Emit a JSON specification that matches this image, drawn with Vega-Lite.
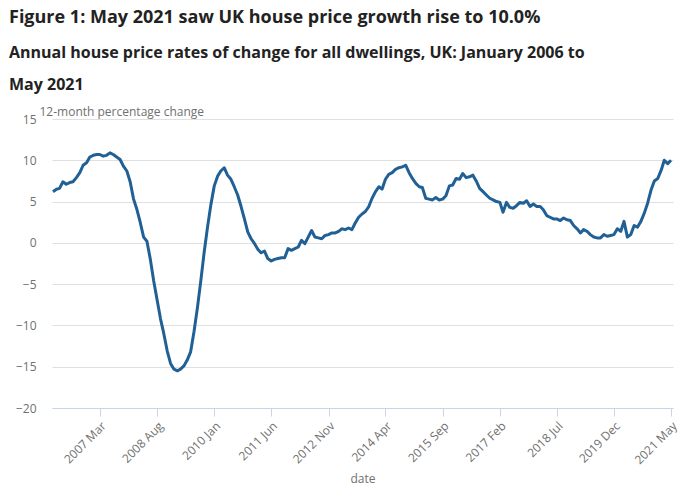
{
  "$schema": "https://vega.github.io/schema/vega-lite/v6.json",
  "width": 621,
  "height": 289,
  "autosize": {"type": "none"},
  "padding": {"left": 52, "top": 119, "right": 26, "bottom": 90},
  "config": {
    "font": "Open Sans",
    "view": {"stroke": null},
    "background": "white"
  },
  "title": {
    "text": "Figure 1: May 2021 saw UK house price growth rise to 10.0%",
    "subtitle": ["Annual house price rates of change for all dwellings, UK: January 2006 to", "May 2021"],
    "anchor": "start",
    "frame": "group",
    "dx": -43,
    "offset": 12,
    "fontSize": 18,
    "fontWeight": "bold",
    "color": "#222222",
    "subtitleFontSize": 16,
    "subtitleFontWeight": "bold",
    "subtitleColor": "#222222",
    "subtitleLineHeight": 32,
    "subtitlePadding": 18
  },
  "data": {
    "values": [
      {"date": "2006-01", "value": 6.2}, {"date": "2006-02", "value": 6.5}, {"date": "2006-03", "value": 6.6},
      {"date": "2006-04", "value": 7.4}, {"date": "2006-05", "value": 7.1}, {"date": "2006-06", "value": 7.3},
      {"date": "2006-07", "value": 7.4}, {"date": "2006-08", "value": 7.9}, {"date": "2006-09", "value": 8.5},
      {"date": "2006-10", "value": 9.4}, {"date": "2006-11", "value": 9.7}, {"date": "2006-12", "value": 10.4},
      {"date": "2007-01", "value": 10.6}, {"date": "2007-02", "value": 10.7}, {"date": "2007-03", "value": 10.7},
      {"date": "2007-04", "value": 10.5}, {"date": "2007-05", "value": 10.6}, {"date": "2007-06", "value": 10.9},
      {"date": "2007-07", "value": 10.7}, {"date": "2007-08", "value": 10.4}, {"date": "2007-09", "value": 10.1},
      {"date": "2007-10", "value": 9.3}, {"date": "2007-11", "value": 8.7}, {"date": "2007-12", "value": 7.4},
      {"date": "2008-01", "value": 5.3}, {"date": "2008-02", "value": 4.0}, {"date": "2008-03", "value": 2.5},
      {"date": "2008-04", "value": 0.7}, {"date": "2008-05", "value": 0.2}, {"date": "2008-06", "value": -2.0},
      {"date": "2008-07", "value": -4.6}, {"date": "2008-08", "value": -6.9}, {"date": "2008-09", "value": -9.2},
      {"date": "2008-10", "value": -11.0}, {"date": "2008-11", "value": -13.1}, {"date": "2008-12", "value": -14.6},
      {"date": "2009-01", "value": -15.3}, {"date": "2009-02", "value": -15.5}, {"date": "2009-03", "value": -15.3},
      {"date": "2009-04", "value": -14.9}, {"date": "2009-05", "value": -14.2}, {"date": "2009-06", "value": -13.2},
      {"date": "2009-07", "value": -10.8}, {"date": "2009-08", "value": -7.9}, {"date": "2009-09", "value": -4.6},
      {"date": "2009-10", "value": -1.2}, {"date": "2009-11", "value": 1.9}, {"date": "2009-12", "value": 4.6},
      {"date": "2010-01", "value": 6.9}, {"date": "2010-02", "value": 8.1}, {"date": "2010-03", "value": 8.7},
      {"date": "2010-04", "value": 9.1}, {"date": "2010-05", "value": 8.2}, {"date": "2010-06", "value": 7.7},
      {"date": "2010-07", "value": 6.8}, {"date": "2010-08", "value": 5.8}, {"date": "2010-09", "value": 4.4},
      {"date": "2010-10", "value": 2.9}, {"date": "2010-11", "value": 1.3}, {"date": "2010-12", "value": 0.5},
      {"date": "2011-01", "value": -0.1}, {"date": "2011-02", "value": -0.8}, {"date": "2011-03", "value": -1.2},
      {"date": "2011-04", "value": -1.0}, {"date": "2011-05", "value": -1.9}, {"date": "2011-06", "value": -2.2},
      {"date": "2011-07", "value": -2.0}, {"date": "2011-08", "value": -1.9}, {"date": "2011-09", "value": -1.8},
      {"date": "2011-10", "value": -1.8}, {"date": "2011-11", "value": -0.7}, {"date": "2011-12", "value": -0.9},
      {"date": "2012-01", "value": -0.7}, {"date": "2012-02", "value": -0.5}, {"date": "2012-03", "value": 0.3},
      {"date": "2012-04", "value": -0.1}, {"date": "2012-05", "value": 0.7}, {"date": "2012-06", "value": 1.5},
      {"date": "2012-07", "value": 0.7}, {"date": "2012-08", "value": 0.6}, {"date": "2012-09", "value": 0.5},
      {"date": "2012-10", "value": 0.9}, {"date": "2012-11", "value": 1.0}, {"date": "2012-12", "value": 1.2},
      {"date": "2013-01", "value": 1.2}, {"date": "2013-02", "value": 1.4}, {"date": "2013-03", "value": 1.7},
      {"date": "2013-04", "value": 1.6}, {"date": "2013-05", "value": 1.8}, {"date": "2013-06", "value": 1.6},
      {"date": "2013-07", "value": 2.4}, {"date": "2013-08", "value": 3.1}, {"date": "2013-09", "value": 3.5},
      {"date": "2013-10", "value": 3.8}, {"date": "2013-11", "value": 4.4}, {"date": "2013-12", "value": 5.4},
      {"date": "2014-01", "value": 6.2}, {"date": "2014-02", "value": 6.8}, {"date": "2014-03", "value": 6.5},
      {"date": "2014-04", "value": 7.7}, {"date": "2014-05", "value": 8.3}, {"date": "2014-06", "value": 8.5},
      {"date": "2014-07", "value": 8.9}, {"date": "2014-08", "value": 9.1}, {"date": "2014-09", "value": 9.2},
      {"date": "2014-10", "value": 9.4}, {"date": "2014-11", "value": 8.5}, {"date": "2014-12", "value": 7.8},
      {"date": "2015-01", "value": 7.2}, {"date": "2015-02", "value": 6.8}, {"date": "2015-03", "value": 6.7},
      {"date": "2015-04", "value": 5.4}, {"date": "2015-05", "value": 5.3}, {"date": "2015-06", "value": 5.2},
      {"date": "2015-07", "value": 5.5}, {"date": "2015-08", "value": 5.2}, {"date": "2015-09", "value": 5.3},
      {"date": "2015-10", "value": 5.7}, {"date": "2015-11", "value": 6.9}, {"date": "2015-12", "value": 7.0},
      {"date": "2016-01", "value": 7.8}, {"date": "2016-02", "value": 7.7}, {"date": "2016-03", "value": 8.4},
      {"date": "2016-04", "value": 7.9}, {"date": "2016-05", "value": 8.0}, {"date": "2016-06", "value": 8.2},
      {"date": "2016-07", "value": 7.5}, {"date": "2016-08", "value": 6.6}, {"date": "2016-09", "value": 6.2},
      {"date": "2016-10", "value": 5.8}, {"date": "2016-11", "value": 5.4}, {"date": "2016-12", "value": 5.2},
      {"date": "2017-01", "value": 5.0}, {"date": "2017-02", "value": 4.9}, {"date": "2017-03", "value": 3.7},
      {"date": "2017-04", "value": 4.9}, {"date": "2017-05", "value": 4.3}, {"date": "2017-06", "value": 4.2},
      {"date": "2017-07", "value": 4.5}, {"date": "2017-08", "value": 4.9}, {"date": "2017-09", "value": 4.8},
      {"date": "2017-10", "value": 5.1}, {"date": "2017-11", "value": 4.4}, {"date": "2017-12", "value": 4.7},
      {"date": "2018-01", "value": 4.4}, {"date": "2018-02", "value": 4.4}, {"date": "2018-03", "value": 4.0},
      {"date": "2018-04", "value": 3.3}, {"date": "2018-05", "value": 3.1}, {"date": "2018-06", "value": 2.9},
      {"date": "2018-07", "value": 2.9}, {"date": "2018-08", "value": 2.7}, {"date": "2018-09", "value": 3.0},
      {"date": "2018-10", "value": 2.8}, {"date": "2018-11", "value": 2.7}, {"date": "2018-12", "value": 2.1},
      {"date": "2019-01", "value": 1.7}, {"date": "2019-02", "value": 1.2}, {"date": "2019-03", "value": 1.6},
      {"date": "2019-04", "value": 1.4}, {"date": "2019-05", "value": 1.0}, {"date": "2019-06", "value": 0.7},
      {"date": "2019-07", "value": 0.6}, {"date": "2019-08", "value": 0.6}, {"date": "2019-09", "value": 1.0},
      {"date": "2019-10", "value": 0.8}, {"date": "2019-11", "value": 0.9}, {"date": "2019-12", "value": 1.0},
      {"date": "2020-01", "value": 1.7}, {"date": "2020-02", "value": 1.4}, {"date": "2020-03", "value": 2.6},
      {"date": "2020-04", "value": 0.7}, {"date": "2020-05", "value": 1.0}, {"date": "2020-06", "value": 2.1},
      {"date": "2020-07", "value": 1.9}, {"date": "2020-08", "value": 2.6}, {"date": "2020-09", "value": 3.6},
      {"date": "2020-10", "value": 4.8}, {"date": "2020-11", "value": 6.4}, {"date": "2020-12", "value": 7.5},
      {"date": "2021-01", "value": 7.8}, {"date": "2021-02", "value": 8.8}, {"date": "2021-03", "value": 10.0},
      {"date": "2021-04", "value": 9.6}, {"date": "2021-05", "value": 10.0}
    ]
  },
  "mark": {"type": "line", "color": "#206095", "strokeWidth": 3, "strokeJoin": "round"},
  "encoding": {
    "x": {
      "field": "date",
      "type": "temporal",
      "title": "date",
      "scale": {
        "type": "utc",
        "domain": [
          {"year": 2005, "month": 12, "date": 23, "utc": true},
          {"year": 2021, "month": 5, "date": 19, "utc": true}
        ],
        "nice": false
      },
      "axis": {
        "values": [
          {"year": 2007, "month": 3, "date": 1, "utc": true},
          {"year": 2008, "month": 8, "date": 1, "utc": true},
          {"year": 2010, "month": 1, "date": 1, "utc": true},
          {"year": 2011, "month": 6, "date": 1, "utc": true},
          {"year": 2012, "month": 11, "date": 1, "utc": true},
          {"year": 2014, "month": 4, "date": 1, "utc": true},
          {"year": 2015, "month": 9, "date": 1, "utc": true},
          {"year": 2017, "month": 2, "date": 1, "utc": true},
          {"year": 2018, "month": 7, "date": 1, "utc": true},
          {"year": 2019, "month": 12, "date": 1, "utc": true},
          {"year": 2021, "month": 5, "date": 1, "utc": true}
        ],
        "labelExpr": "utcFormat(datum.value, '%Y %b')",
        "labelAngle": -45,
        "labelFontSize": 12,
        "labelColor": "#707070",
        "labelPadding": 4,
        "domainColor": "#c6d5e8",
        "tickColor": "#c6d5e8",
        "tickSize": 8,
        "grid": false,
        "titleFontSize": 12,
        "titleFontWeight": "normal",
        "titleColor": "#707070",
        "titlePadding": 8
      }
    },
    "y": {
      "field": "value",
      "type": "quantitative",
      "scale": {"domain": [-20, 15], "nice": false},
      "axis": {
        "values": [-20, -15, -10, -5, 0, 5, 10, 15],
        "title": "12-month percentage change",
        "titleAngle": 0,
        "titleAlign": "left",
        "titleBaseline": "alphabetic",
        "titleX": -13,
        "titleY": -4,
        "titleFontSize": 12,
        "titleFontWeight": "normal",
        "titleColor": "#707070",
        "labelFontSize": 12,
        "labelColor": "#707070",
        "labelPadding": 16,
        "ticks": false,
        "domain": false,
        "gridColor": "#e0e0e0"
      }
    }
  }
}
